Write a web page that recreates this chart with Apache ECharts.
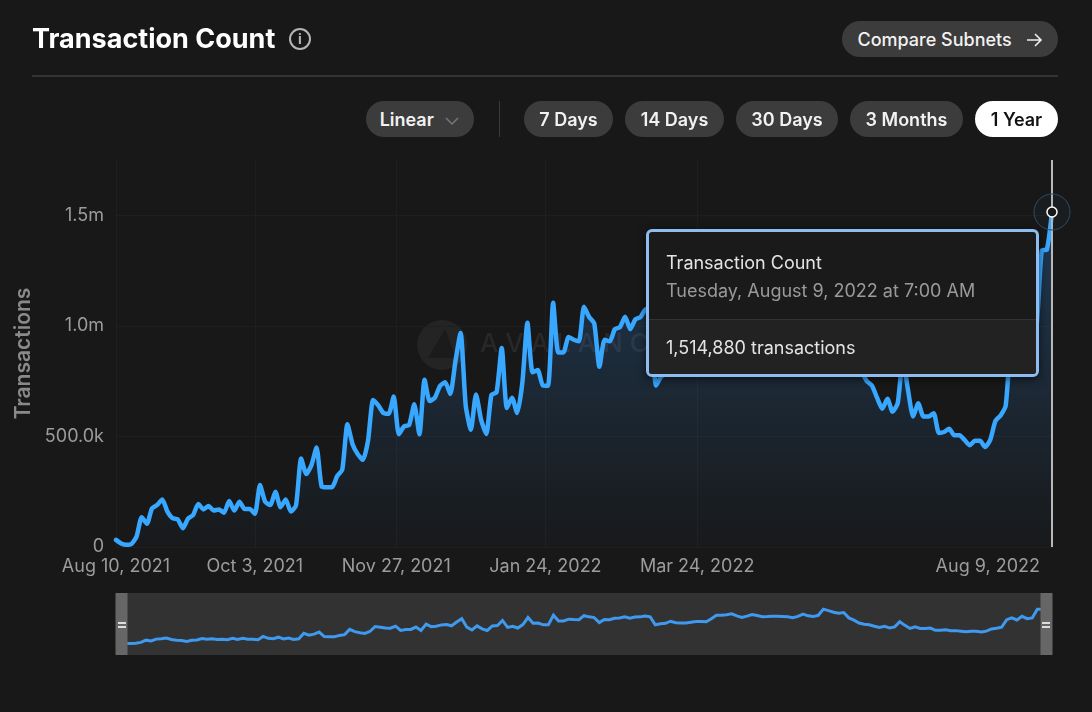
<!DOCTYPE html>
<html>
<head>
<meta charset="utf-8">
<title>Transaction Count</title>
<script src="https://cdn.jsdelivr.net/npm/echarts@6/dist/echarts.min.js"></script>
<style>
  html, body { margin: 0; padding: 0; background: #181818; font-family: Inter, sans-serif; overflow: hidden; }
  #main-chart { position: absolute; left: 0; top: 0; width: 1092px; height: 712px; }
  .title { position: absolute; left: 32px; top: 23px; font-size: 27px; line-height: 32px; font-weight: 700; color: #fff; }
  .info { position: absolute; left: 289px; top: 28px; width: 18px; height: 18px; border: 2px solid #b5b5b5; border-radius: 50%;
          color: #b5b5b5; font-size: 14px; line-height: 18px; font-weight: 700; text-align: center; }
  .rule { position: absolute; left: 32px; top: 75px; width: 1026px; height: 2px; background: #333; }
  .vrule { position: absolute; left: 499px; top: 101px; width: 1px; height: 36px; background: #3a3a3a; }
  .pill { position: absolute; height: 36px; line-height: 37px; border-radius: 18px; background: #3c3c3c; color: #f2f2f2;
          font-size: 18px; font-weight: 600; text-align: center; white-space: nowrap; }
  .pill.on { background: #fff; color: #111; }
  .pill svg { vertical-align: -2px; }
</style>
</head>
<body>
<div id="main-chart"></div>
<div class="title">Transaction Count</div>
<div class="info">i</div>
<div class="pill" style="left:842px;top:21px;width:216px;font-weight:500;line-height:38px">Compare Subnets <svg width="18" height="16" style="margin-left:8px" viewBox="0 0 18 16"><path d="M2 8H16M10 2L16 8L10 14" fill="none" stroke="#eee" stroke-width="1.6"/></svg></div>
<div class="rule"></div>
<div class="pill" style="left:366px;top:101px;width:108px">Linear <svg width="16" height="12" style="margin-left:6px" viewBox="0 0 16 12"><path d="M2 2L8 8L14 2" fill="none" stroke="#777" stroke-width="1.5"/></svg></div>
<div class="vrule"></div>
<div class="pill" style="left:524px;top:101px;width:89px">7 Days</div>
<div class="pill" style="left:625px;top:101px;width:99px">14 Days</div>
<div class="pill" style="left:736px;top:101px;width:102px">30 Days</div>
<div class="pill" style="left:850px;top:101px;width:113px">3 Months</div>
<div class="pill on" style="left:975px;top:101px;width:83px">1 Year</div>

<script>
// 数据: 每两天读一个点 (单位: 千笔)
const startDay = Date.UTC(2021, 7, 10);
const stepDays = 2;
const txThousands = [
    32, 16, 10, 14, 47, 135, 105, 175, 190, 215,
    160, 130, 125, 85, 128, 145, 195, 170, 185, 165,
    170, 155, 208, 165, 205, 172, 172, 150, 280, 205,
    190, 250, 180, 215, 160, 188, 400, 330, 370, 450,
    273, 270, 270, 320, 350, 555, 465, 420, 394, 480,
    665, 640, 606, 602, 680, 510, 545, 552, 645, 510,
    756, 660, 675, 728, 745, 692, 840, 968, 640, 530,
    690, 575, 511, 688, 700, 900, 629, 675, 606, 740,
    1014, 790, 800, 730, 729, 1104, 880, 880, 950, 937,
    930, 1086, 1040, 1010, 815, 937, 930, 985, 995, 1041,
    985, 1030, 1040, 1075, 1040, 730, 770, 790, 870, 810,
    800, 805, 830, 855, 855, 850, 965, 1100, 1100, 1120,
    1160, 1080, 1020, 1070, 1130, 1090, 1047, 1050, 1060, 1060,
    1050, 1040, 1010, 1060, 1150, 1080, 1050, 1100, 1340, 1280,
    1220, 1185, 1210, 1000, 910, 800, 750, 730, 674, 625,
    670, 612, 650, 850, 710, 590, 650, 590, 590, 605,
    516, 520, 535, 505, 505, 484, 460, 480, 480, 452,
    485, 570, 595, 640, 930, 1000, 920, 1060, 970, 1000,
    1340, 1345, 1514.88
];
const xTickDates = [
    Date.UTC(2021, 7, 10), Date.UTC(2021, 9, 3), Date.UTC(2021, 10, 27),
    Date.UTC(2022, 0, 24), Date.UTC(2022, 2, 24), Date.UTC(2022, 7, 9)
];
const yTicks = [0, 500000, 1000000, 1500000];
const monthNames = ['Jan', 'Feb', 'Mar', 'Apr', 'May', 'Jun', 'Jul', 'Aug', 'Sep', 'Oct', 'Nov', 'Dec'];

const seriesData = txThousands.map((v, i) => [startDay + i * stepDays * 86400000, v * 1000]);
const lastPoint = seriesData[seriesData.length - 1];

const formatDate = (ts) => {
    const d = new Date(ts);
    return `${monthNames[d.getUTCMonth()]} ${d.getUTCDate()}, ${d.getUTCFullYear()}`;
};

const formatCount = (v) => {
    if (v === 0) return '0';
    if (v >= 1000000) return (v / 1000000).toFixed(1) + 'm';
    return (v / 1000).toFixed(1) + 'k';
};

const tooltipHtml = () => `
    <div style="padding:17px 17px 0;height:70px;color:#9a9a9a;font-size:18px;line-height:28px;">
        <div style="color:#e4e4e4">Transaction Count</div>
        <div>Tuesday, August 9, 2022 at 7:00 AM</div>
    </div>
    <div style="background:#222;border-top:1px solid #333;height:56px;line-height:56px;padding:0 17px;color:#e4e4e4;font-size:18px;">
        ${Math.round(lastPoint[1]).toLocaleString('en-US')} transactions
    </div>`;

const chart = echarts.init(document.getElementById('main-chart'));
chart.setOption({
    animation: false,
    backgroundColor: 'transparent',
    textStyle: { fontFamily: 'Inter' },
    grid: { left: 116, right: 40, top: 160, bottom: 165 },
    tooltip: {
        trigger: 'axis',
        triggerOn: 'none',
        alwaysShowContent: true,
        transitionDuration: 0,
        position: [646, 229],
        padding: 0,
        backgroundColor: '#1a1a1a',
        borderColor: '#8dbcf0',
        borderWidth: 3,
        extraCssText: 'width:387px;height:142px;border-radius:6px;box-shadow:0 2px 8px rgba(0,0,0,.6);overflow:hidden;',
        axisPointer: { type: 'line', lineStyle: { color: '#b8b8b8', width: 2, type: 'solid' } },
        formatter: tooltipHtml
    },
    xAxis: {
        type: 'value',
        min: seriesData[0][0],
        max: lastPoint[0],
        axisLine: { show: false },
        axisTick: { show: false, customValues: xTickDates },
        splitLine: { show: true, lineStyle: { color: '#1f1f1f', width: 1 } },
        axisLabel: {
            customValues: xTickDates,
            color: '#9c9c9c',
            fontSize: 18,
            fontFamily: 'Inter',
            margin: 11,
            alignMaxLabel: 'right',
            formatter: (val) => val === lastPoint[0] ? `{last|${formatDate(val)}}` : formatDate(val),
            rich: { last: { padding: [0, 12, 0, 0], color: '#9c9c9c', fontSize: 18, fontFamily: 'Inter' } }
        }
    },
    yAxis: {
        type: 'value',
        min: 0,
        max: 1750000,
        name: 'Transactions',
        nameLocation: 'middle',
        nameGap: 66,
        nameTextStyle: { color: '#8a8a8a', fontSize: 21, fontWeight: 600, fontFamily: 'Inter' },
        axisLine: { show: false },
        axisTick: { show: false, customValues: yTicks },
        splitLine: { show: true, lineStyle: { color: '#1f1f1f', width: 1 } },
        axisLabel: {
            customValues: yTicks,
            color: '#9c9c9c',
            fontSize: 18,
            fontFamily: 'Inter',
            margin: 12,
            formatter: formatCount
        }
    },
    dataZoom: [{
        type: 'slider',
        xAxisIndex: 0,
        start: 0,
        end: 100,
        left: 118,
        width: 927,
        top: 593,
        height: 62,
        brushSelect: false,
        showDetail: false,
        borderColor: 'transparent',
        backgroundColor: '#323232',
        fillerColor: 'rgba(0,0,0,0)',
        moveHandleSize: 0,
        handleIcon: 'path://M0 0H12V62H0Z',
        handleSize: 62,
        handleStyle: { color: '#666', borderWidth: 0 },
        dataBackground: { lineStyle: { color: '#3f99ee', width: 3, opacity: 1 }, areaStyle: { opacity: 0 } },
        selectedDataBackground: { lineStyle: { color: '#3f99ee', width: 3, opacity: 1 }, areaStyle: { opacity: 0 } }
    }],
    series: [{
        type: 'line',
        name: 'Transaction Count',
        data: seriesData,
        smooth: 0.2,
        showSymbol: false,
        lineStyle: { color: '#3398fa', width: 4.5, cap: 'round', join: 'round' },
        itemStyle: { color: '#3398fa' },
        areaStyle: {
            color: new echarts.graphic.LinearGradient(0, 0, 0, 1, [
                { offset: 0, color: 'rgba(52, 140, 240, 0.36)' },
                { offset: 1, color: 'rgba(52, 140, 240, 0.02)' }
            ])
        },
        markPoint: {
            silent: true,
            symbol: 'circle',
            z: 60,
            label: { show: false },
            data: [
                { coord: lastPoint, symbolSize: 36, itemStyle: { color: 'rgba(70,130,200,0.05)', borderColor: '#2f4a68', borderWidth: 1 } },
                { coord: lastPoint, symbolSize: 10, itemStyle: { color: '#181818', borderColor: '#fff', borderWidth: 1.5 } }
            ]
        }
    }],
    graphic: [
        // 水印
        { type: 'circle', silent: true, z: 0, shape: { cx: 442, cy: 345, r: 25 }, style: { fill: '#242424' } },
        { type: 'polygon', silent: true, z: 0, shape: { points: [[445, 329], [456, 358], [428, 358]] }, style: { fill: '#1b1b1b' } },
        { type: 'text', silent: true, z: 0, x: 480, y: 331, style: { text: 'A V A L A N C H E', fill: '#282828', fontSize: 26, fontFamily: 'Inter', fontWeight: 500 } },
        // 滑块手柄上的短线
        { type: 'rect', silent: true, z: 100, shape: { x: 118, y: 622, width: 8, height: 2 }, style: { fill: '#ddd' } },
        { type: 'rect', silent: true, z: 100, shape: { x: 118, y: 626, width: 8, height: 2 }, style: { fill: '#ddd' } },
        { type: 'rect', silent: true, z: 100, shape: { x: 1042, y: 622, width: 8, height: 2 }, style: { fill: '#ddd' } },
        { type: 'rect', silent: true, z: 100, shape: { x: 1042, y: 626, width: 8, height: 2 }, style: { fill: '#ddd' } }
    ]
});

chart.dispatchAction({ type: 'showTip', seriesIndex: 0, dataIndex: seriesData.length - 1 });
</script>
</body>
</html>
